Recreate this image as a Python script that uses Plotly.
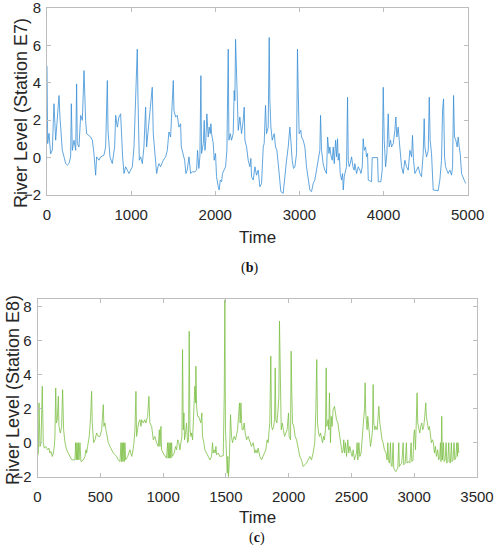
import plotly.graph_objects as go

# ---------------- Station E7 (panel b) ----------------
e7_time = [0, 8, 24, 43, 63, 83, 103, 123, 143, 154, 170, 182, 202, 222, 242, 261, 281, 289, 301, 321,
           341, 352, 360, 380, 400, 420, 440, 448, 459, 471, 499, 519, 539, 558, 578, 590, 618, 638, 677, 697,
           717, 725, 748, 776, 804, 816, 836, 855, 875, 883, 899, 915, 935, 955, 974, 994, 1014, 1034, 1053, 1073,
           1081, 1097, 1113, 1133, 1152, 1172, 1184, 1212, 1232, 1251, 1263, 1279, 1303, 1319, 1331, 1350, 1382, 1410, 1430, 1449,
           1469, 1501, 1509, 1529, 1548, 1568, 1588, 1596, 1620, 1636, 1651, 1667, 1687, 1707, 1727,
           1758, 1778, 1789, 1805, 1817, 1829, 1837, 1857, 1869, 1877, 1888, 1900, 1916, 1928, 1940, 1948, 1956, 1976, 1987, 2003,
           2015, 2035, 2047, 2059, 2075, 2086, 2106, 2122, 2138, 2146, 2154, 2162, 2178, 2193, 2213, 2225, 2233, 2241, 2249, 2257,
           2273, 2292, 2312, 2332, 2344, 2352, 2372, 2391, 2411, 2423, 2431, 2451, 2471, 2490, 2510, 2530, 2550, 2570, 2581, 2597,
           2609, 2629, 2641, 2649, 2661, 2677, 2700, 2716, 2732, 2748, 2768, 2779, 2807, 2827, 2847, 2867, 2886, 2898, 2914, 2930,
           2946, 2966, 2977, 2985, 2997, 3017, 3025, 3045, 3065, 3084, 3104, 3124, 3144, 3164, 3183, 3203, 3223, 3243, 3251, 3263,
           3282, 3302, 3322, 3335, 3351, 3362, 3374, 3390, 3402, 3414, 3430, 3442, 3453, 3461, 3473, 3485, 3501, 3513, 3521, 3533,
           3549, 3560, 3572, 3580, 3592, 3604, 3620, 3636, 3651, 3659, 3679, 3699, 3719, 3731, 3747, 3758, 3770, 3786, 3798, 3810,
           3818, 3857, 3865, 3929, 3937, 3968, 3984, 3996, 4008, 4024, 4040, 4055, 4067, 4083, 4095, 4115, 4135, 4146, 4158, 4174,
           4186, 4198, 4214, 4234, 4253, 4273, 4293, 4313, 4333, 4344, 4356, 4372, 4392, 4412, 4432, 4451, 4471, 4483, 4491, 4511,
           4531, 4543, 4554, 4570, 4590, 4649, 4669, 4689, 4701, 4713, 4725, 4737, 4752, 4768, 4788, 4808, 4820, 4832, 4843, 4859,
           4875, 4887, 4899, 4911, 4927, 4946, 4966, 4978]
e7_level = [4.9, 0.75, 1.3, 0.2, 0.4, 2.88, 0.93, 2.17, 3.32, 2.17, 1.28, 0.39, 0.04, -0.32, -0.40, -0.32, 0.04, 2.88, 0.39, 0.93,
            0.39, 3.94, 0.75, 0.57, 2.26, 1.99, 4.65, 2.88, 1.99, 1.28, 1.19, 1.10, 0.93, 0.22, -0.94, 0.04, -0.14, 0.04, 0.13, 0.57,
            4.12, 1.46, 0.04, -0.32, 0.57, 2.26, 1.63, 2.17, 2.34, 1.28, 0.04, -0.85, -0.49, -0.67, -0.85, -0.67, -0.49, 0.57, 2.70, 5.80,
            3.23, -0.14, 0.04, -0.32, 0.57, 2.70, 0.57, 1.99, 2.70, 3.76, 1.28, 0.57, -0.85, -0.49, -0.32, -0.49, -0.14, 0.04, 0.39, 1.37,
            1.10, 4.12, 2.52, 2.17, 2.26, 1.63, 1.81, 0.57, 0.04, -0.14, -0.85, -0.67, 0.04, -0.85, -0.76,
            -0.76, -0.67, 0.39, -0.58, 0.04, 4.38, 0.22, 0.75, 1.99, 0.39, 0.93, 2.34, 1.10, 1.63, 1.28, 1.81, 1.28, 0.75, -0.14, 0.22,
            -1.02, -1.56, -1.73, -1.20, -1.29, -0.85, -0.67, -0.49, 0.39, 2.88, 5.80, 0.93, 1.28, 0.93, 1.28, 3.59, 3.05, 6.33, 5.00, 3.05,
            1.46, 2.17, 1.28, 1.99, 2.70, 0.93, 0.57, -0.14, -0.49, -0.05, -1.02, -1.20, -0.49, -0.94, -0.67, -1.56, -1.38, 0.57, 0.75, 2.79,
            1.28, 1.63, 6.42, 3.05, 1.63, 0.93, 1.28, 0.57, 0.39, -0.32, -1.20, -1.82, -1.91, -0.85, -0.14, 0.57, 1.63, 0.93, -0.14, -0.58,
            -0.49, 0.22, 5.80, 3.76, 1.28, 1.46, 1.10, 0.93, 0.57, -0.49, -1.20, -1.73, -1.82, -1.38, -1.20, -0.67, 0.04, 0.39, 2.26, 0.39,
            -0.32, -0.67, -0.85, 1.10, 0.22, 0.57, 0.13, -0.14, 0.57, -0.32, 0.93, 0.04, 1.01, -0.14, 0.22, -0.85, -1.20, -0.85, -1.73, -1.02,
            -0.67, -0.49, 3.23, -0.14, -0.49, -0.32, 0.04, -0.49, -0.67, -0.32, -0.85, -0.49, -0.67, -0.85, -0.49, 1.01, 0.39, 0.57, 0.04, 0.22,
            -1.20, -1.29, 0.00, 0.00, -1.29, -1.29, -0.67, 3.76, 0.93, -0.49, 0.22, 2.34, 0.57, 0.93, 0.57, 0.75, 1.46, 2.17, 1.10, 1.63,
            0.93, 0.04, -0.49, -0.85, -0.14, -0.49, -0.67, 0.39, 0.04, 1.19, -0.14, -0.85, -0.67, -0.49, -0.85, -1.02, 0.22, 2.08, 0.57, 0.04,
            0.39, 3.23, 0.93, 0.22, -1.73, -1.77, -1.20, -0.14, 2.52, 3.14, 0.04, -0.49, -0.67, -0.85, -0.67, -0.94, -0.49, 3.32, 1.10, 0.93,
            0.57, 1.10, 0.57, 0.22, -0.85, -1.11, -1.29, -1.38]

# ---------------- Station E8 (panel c) ----------------
e8_time = [0, 7, 12, 20, 28, 38, 46, 54, 65, 81, 91, 99, 107, 118, 126, 134, 139, 145, 150, 158,
           166, 171, 182, 192, 200, 208, 219, 232, 245, 259, 272, 285, 298, 304, 309, 314, 320, 325, 330, 338,
           346, 365, 378, 386, 391, 399, 404, 412, 423, 431, 436, 447, 458, 471, 484, 497, 511, 524, 529, 537,
           545, 556, 564, 577, 590, 604, 617, 630, 643, 657, 665, 670, 675, 680, 686, 691, 696, 702, 718, 728,
           736, 750, 757, 768, 776, 784, 789, 797, 805, 816, 824, 829, 842, 855, 863, 877, 887, 895, 909, 922,
           935, 948, 962, 970, 975, 983, 988, 1001, 1015, 1028, 1036, 1041, 1047, 1052, 1057, 1062, 1068, 1073, 1089, 1100,
           1108, 1116, 1126,
           1134, 1142, 1150, 1155, 1161, 1166, 1171, 1179, 1187, 1195, 1203, 1208, 1214, 1222, 1227, 1235, 1240, 1248, 1253, 1259,
           1261, 1267, 1275, 1283, 1293, 1301, 1309, 1314, 1325, 1333, 1346, 1359, 1373, 1386, 1394, 1399, 1407, 1415, 1421, 1426,
           1439, 1452, 1466, 1479, 1487, 1492, 1497, 1505, 1511, 1516, 1521, 1527, 1532, 1537, 1545, 1553, 1558, 1566, 1577, 1585,
           1593, 1601, 1609, 1614, 1620, 1625, 1630, 1638, 1646, 1654, 1665, 1678, 1691, 1704, 1718, 1731, 1739, 1749, 1757, 1771,
           1784, 1797, 1811, 1818, 1829, 1837, 1845, 1850, 1858, 1864, 1872, 1880, 1888, 1893, 1898, 1906, 1914, 1922, 1927, 1933,
           1941, 1949, 1956, 1967, 1978, 1988, 1999, 2004, 2015, 2020, 2025, 2031, 2041, 2052, 2063, 2076, 2089, 2102, 2116, 2129,
           2142, 2155, 2169, 2182, 2195, 2208, 2216, 2224, 2230, 2238, 2246, 2254, 2262, 2270, 2278, 2285, 2293, 2299, 2304, 2315,
           2320, 2325, 2333, 2339, 2346, 2354, 2365, 2373, 2381, 2392, 2400, 2408, 2418, 2426, 2434, 2439, 2445, 2453, 2461, 2471,
           2479, 2487, 2498, 2506, 2514, 2524, 2532, 2540, 2545, 2551, 2559, 2567, 2577, 2585, 2593, 2599, 2604, 2609, 2614, 2620,
           2625, 2630, 2638, 2646, 2652, 2660, 2668, 2673, 2678, 2686, 2694, 2705, 2713, 2718, 2726, 2736, 2744, 2752, 2763, 2776,
           2784, 2790, 2795, 2803, 2811, 2816, 2824, 2832, 2837, 2845, 2853, 2861, 2869, 2877, 2882, 2890, 2901, 2912, 2917, 2928,
           2938, 2943, 2954, 2965, 2975, 2981, 2991, 2996, 3002, 3010, 3018, 3023, 3028, 3036, 3044, 3052, 3060, 3068, 3076, 3084,
           3092, 3097, 3105, 3113, 3121, 3129, 3137, 3145, 3153, 3161, 3169, 3177, 3187, 3195, 3203, 3209, 3214, 3219, 3225, 3233,
           3238, 3246, 3254, 3259, 3267, 3275, 3280, 3288, 3296, 3301, 3309, 3317, 3323, 3331, 3339, 3344, 3349, 3355]
e8_level = [-0.8, -0.61, 2.34, -0.22, 0.0, 3.32, 0.0, -0.32, -0.22, -0.42, -0.32, -0.61, -0.52, -0.81, -0.61, -0.22, 0.37, 3.22, 1.16, 1.35,
            2.73, 0.96, 0.57, 0.96, 3.12, 0.76, 0.0, -0.42, -0.61, -0.81, -1.01, -1.01, -1.01, 0.0, -1.01, 0.0, -1.01, 0.0, -1.01, 0.0,
            -1.11, -1.01, -0.81, -0.42, -0.61, -0.22, 0.0, 0.37, 1.55, 3.02, 1.16, 0.0, 0.17, 0.57, 0.37, 0.37, 0.76, 2.24, 0.96, 1.16,
            0.76, 0.37, 0.0, -0.22, -0.42, -0.61, -0.71, -0.81, -1.01, -1.11, 0.0, -1.11, 0.0, -1.11, 0.0, -1.11, 0.0, -1.01, -0.81, -0.61,
            -0.42, -0.81, -0.61, 0.0, 0.76, 3.02, 0.37, 0.76, 1.16, 1.35, 0.96, 1.35, 1.16, 1.35, 1.16, 1.55, 2.73, 1.16, 0.96, 0.17,
            0.37, 0.0, -0.22, 0.76, -0.22, 0.96, -0.42, -0.61, -0.81, -0.91, 0.0, -0.91, 0.0, -0.91, 0.0, -0.91, 0.0, -0.81, -0.61, -0.22,
            -0.42, 0.17, 0.0,
            -0.42, 0.0, 0.37, 5.48, 0.76, 1.75, 0.17, 0.57, 1.16, 0.0, 0.17, 6.56, 0.76, 0.37, 0.57, 0.17, 1.16, 2.14, 3.32, 2.34,
            4.50, 2.14, 1.55, 1.55, 1.35, 1.16, 1.75, 0.37, 0.0, -0.42, -0.61, -0.81, -1.01, -0.81, 0.0, -0.61, -0.42, -0.61, -0.22, -0.71,
            -0.61, -0.81, -0.77, -0.77, 2.73, 8.4, 0.76, -0.81, -1.79, -0.81, -2.0, -1.20, 0.0, 1.65, 0.37, 0.0, 0.17, 0.37, 0.17, 0.57,
            0.76, 1.55, 2.34, 1.16, 2.34, 1.35, 0.76, 0.76, 1.16, 0.57, 0.17, 0.37, 0.0, -0.22, 0.0, -0.61, -0.42, -0.61, -0.32, -0.81,
            -1.01, -0.81, -0.61, -0.42, 0.17, 0.0, 0.76, 1.16, 5.09, 0.96, 0.76, 0.96, 1.35, 4.40, 1.35, 1.16, 1.75, 2.73, 7.15, 2.73,
            0.76, 1.16, 0.76, 0.37, 0.57, 0.76, 1.75, 0.37, 0.17, 5.38, 2.93, 1.16, 0.96, 0.37, 0.17, -0.42, -0.81, -1.01, -1.40, -1.30,
            -1.20, -1.01, -0.81, -1.01, -0.61, 0.0, 1.75, 4.89, 1.16, 0.57, 0.37, 0.57, 0.17, 0.0, 0.37, 0.17, 0.76, 4.40, 0.96, 1.35,
            0.76, 2.93, 0.0, 1.55, 0.96, 1.94, 2.14, 1.75, 1.35, 1.16, 0.76, 0.37, -0.22, -0.61, -0.42, 0.17, -0.61, 0.0, -0.81, 0.17,
            -0.61, -0.22, -0.61, -0.81, -0.42, -1.01, -0.81, -0.61, 0.0, -1.01, 0.0, -0.81, -0.61, 0.37, 0.76, 1.55, 1.94, 3.52, 1.75, 1.16,
            0.76, 1.55, 0.76, 0.0, -0.22, 0.17, 0.76, 3.42, 1.16, 0.76, 0.96, 0.76, 1.35, 2.14, 1.16, 0.57, 0.17, 0.0, -0.42, -0.61,
            -1.01, 0.0, -1.01, -1.20, 0.0, -1.30, -1.40, 0.0, -1.50, -1.60, -1.70, -1.60, -1.50, 0.0, -1.40, -1.30, -1.20, 0.0, -1.30, -1.20,
            0.0, -1.20, -1.11, -1.20, 0.0, -1.11, -1.01, 0.37, 0.76, -0.42, 1.94, 2.93, 1.16, 0.76, 0.57, 0.96, 1.16, 0.76, 0.96, 1.55,
            2.34, 1.55, 1.16, 0.76, 0.96, 0.37, 0.0, 0.17, 0.0, -0.61, -0.22, -0.81, -0.42, -1.01, -0.81, 0.0, -1.11, 1.55, -1.01, 0.0,
            -1.11, -1.01, 0.0, -1.20, -1.11, 0.0, -1.11, -1.20, 0.0, -1.11, -1.01, 0.0, -1.01, -0.91, 0.0, -0.81, 0.0, -0.61]

e7_xticks = [0, 1000, 2000, 3000, 4000, 5000]
e8_xticks = [0, 500, 1000, 1500, 2000, 2500, 3000, 3500]
y_ticks = [-2, 0, 2, 4, 6, 8]

W, H = 498, 550
AX_GRAY = "#bdbdbd"
TXT = "#262626"
TICKFONT = dict(family="Liberation Sans, Arial, sans-serif", size=15, color=TXT)

fig = go.Figure()
fig.add_trace(go.Scatter(x=e7_time, y=e7_level, mode="lines",
                         line=dict(color="#3a8fd6", width=0.8), xaxis="x", yaxis="y",
                         showlegend=False, hoverinfo="skip"))
fig.add_trace(go.Scatter(x=e8_time, y=e8_level, mode="lines",
                         line=dict(color="#7cbf45", width=0.8), xaxis="x2", yaxis="y2",
                         showlegend=False, hoverinfo="skip"))

def ax_common():
    return dict(showline=True, linecolor=AX_GRAY, linewidth=1, mirror="ticks",
                ticks="inside", ticklen=4, tickcolor=AX_GRAY, tickwidth=1,
                showgrid=False, zeroline=False, tickfont=TICKFONT,
                automargin=False, ticklabeloverflow="allow")

top_x = (47 / W, 467.7 / W)
top_y = (1 - 195 / H, 1 - 8 / H)
bot_x = (37.5 / W, 477 / W)
bot_y = (1 - 476.7 / H, 1 - 299 / H)

fig.update_layout(
    template="none",
    width=W, height=H,
    margin=dict(l=0, r=0, t=0, b=0, autoexpand=False),
    paper_bgcolor="white", plot_bgcolor="white",
    xaxis=dict(domain=top_x, range=[0, 5000], tickvals=e7_xticks, anchor="y",
               ticklabelstandoff=6, **ax_common()),
    yaxis=dict(domain=top_y, range=[-2, 8], tickvals=y_ticks, anchor="x",
               ticklabelstandoff=2, **ax_common()),
    xaxis2=dict(domain=bot_x, range=[0, 3500], tickvals=e8_xticks, anchor="y2",
                ticklabelstandoff=6, **ax_common()),
    yaxis2=dict(domain=bot_y, range=[-2, 8.45], tickvals=y_ticks, anchor="x2",
                ticklabelstandoff=2, **ax_common()),
)

LABELFONT = dict(family="Liberation Sans, Arial, sans-serif", size=18, color=TXT)
ann = [
    dict(text="River Level (Station E7)", x=21 / W, y=1 - 113 / H, textangle=-90, font=LABELFONT),
    dict(text="Time", x=(top_x[0] + top_x[1]) / 2, y=1 - 237 / H, font=dict(LABELFONT, size=17)),
    dict(text="(<b>b</b>)", x=249 / W, y=1 - 268 / H,
         font=dict(family="Liberation Serif, Times New Roman, serif", size=14, color="#111")),
    dict(text="River Level (Station E8)", x=13 / W, y=1 - 390 / H, textangle=-90, font=LABELFONT),
    dict(text="Time", x=(bot_x[0] + bot_x[1]) / 2, y=1 - 517 / H, font=dict(LABELFONT, size=17)),
    dict(text="(<b>c</b>)", x=257 / W, y=1 - 538 / H,
         font=dict(family="Liberation Serif, Times New Roman, serif", size=14, color="#111")),
]
for a in ann:
    fig.add_annotation(xref="paper", yref="paper", showarrow=False,
                       xanchor="center", yanchor="middle", **a)

fig.write_html("out.html", config={"displayModeBar": False},
               post_script="document.body.style.margin='0px';")
